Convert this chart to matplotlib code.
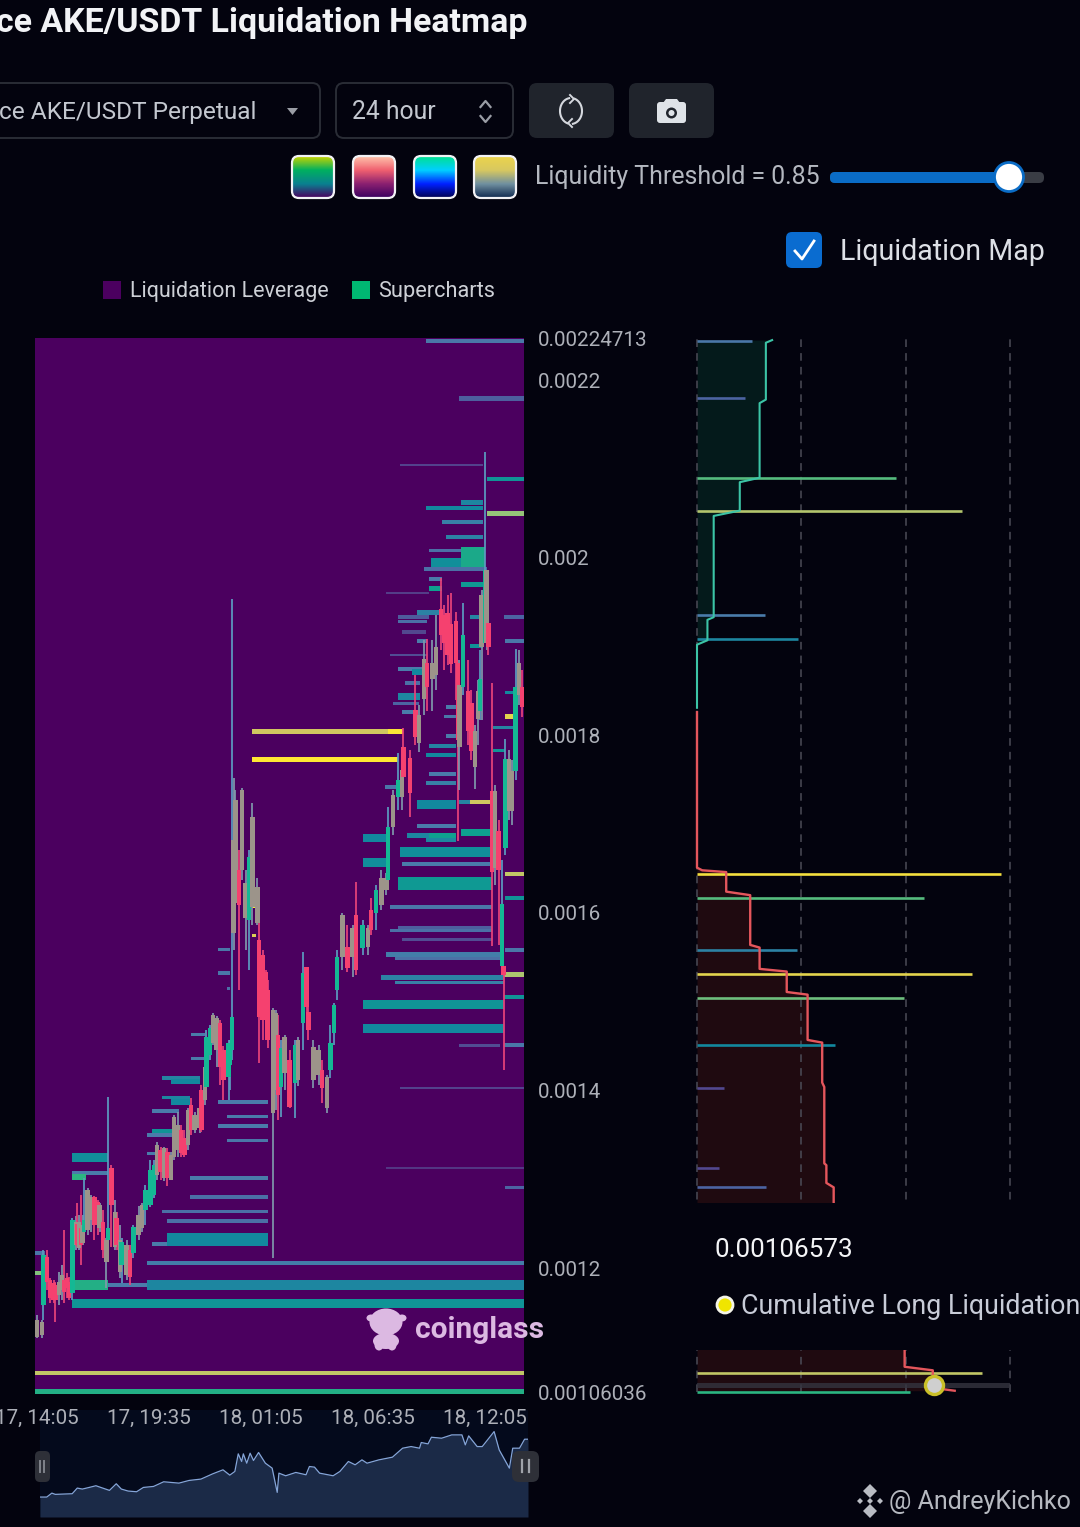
"""AKE/USDT liquidation heatmap screen, rebuilt with matplotlib"""

import numpy as np
import matplotlib
matplotlib.use("Agg")
import matplotlib.pyplot as plt
from matplotlib.colors import LinearSegmentedColormap
from matplotlib.patches import Circle, FancyBboxPatch, Polygon, Ellipse, Rectangle

plt.rcParams['font.family'] = ['Roboto', 'DejaVu Sans']

# prices below are in millionths (1234 = 0.001234), time is in 5 minute bars
price_ticks = [2247.13, 2200, 2000, 1800, 1600, 1400, 1200, 1060.36]
price_labels = ['0.00224713', '0.0022', '0.002', '0.0018', '0.0016', '0.0014', '0.0012', '0.00106036']
time_ticks = [1, 67, 133, 199, 265]
time_labels = ['17, 14:05', '17, 19:35', '18, 01:05', '18, 06:35', '18, 12:05']

# candles
candle_bar = [1, 4, 5, 7, 9, 11, 12, 14, 16, 17, 19, 20, 22, 24, 25, 26, 27, 28, 29, 31, 33, 35, 37, 38, 40, 42, 43, 45,
              47, 48, 50, 51, 54, 56, 58, 61, 63, 65, 68, 70, 72, 74, 76, 78, 80, 82, 84, 86, 88, 90, 92, 94, 97, 98,
              100, 101, 103, 105, 107, 109, 111, 114, 115, 116, 117, 118, 120, 122, 124, 126, 128, 131, 132, 134, 136,
              137, 140, 142, 143, 145, 147, 150, 153, 155, 158, 160, 161, 164, 167, 169, 172, 174, 176, 178, 181, 184,
              187, 189, 193, 196, 198, 201, 204, 207, 208, 211, 214, 216, 217, 221, 224, 226, 229, 231, 234, 236, 239,
              241, 243, 245, 248, 249, 250, 252, 255, 257, 259, 261, 262, 263, 265, 266, 267, 269, 271, 273, 275, 276,
              277, 279, 281, 283, 285, 287]
candle_high = [1147, 1142, 1220, 1220, 1189, 1187, 1184, 1196, 1204, 1243, 1195, 1190, 1257, 1259, 1273, 1260, 1282, 1260,
               1302, 1290, 1282, 1281, 1277, 1273, 1266, 1234, 1393, 1316, 1277, 1263, 1249, 1234, 1232, 1226, 1249, 1270,
               1273, 1294, 1322, 1322, 1342, 1336, 1336, 1335, 1331, 1372, 1376, 1361, 1356, 1380, 1392, 1376, 1380, 1406,
               1429, 1468, 1474, 1487, 1484, 1479, 1450, 1457, 1457, 1953, 1752, 1738, 1671, 1741, 1648, 1671, 1724, 1639,
               1598, 1558, 1536, 1524, 1493, 1491, 1485, 1457, 1463, 1446, 1457, 1460, 1556, 1539, 1495, 1457, 1451, 1434,
               1418, 1474, 1499, 1558, 1600, 1586, 1586, 1635, 1592, 1586, 1617, 1631, 1648, 1645, 1719, 1738, 1780, 1767,
               1808, 1783, 1868, 1834, 1907, 1908, 1907, 1935, 1977, 1947, 1958, 1960, 1939, 1881, 1885, 1949, 1885, 1851,
               1812, 1862, 1896, 1964, 2119, 1986, 1952, 1859, 1744, 1705, 1660, 1540, 1796, 1783, 1772, 1897, 1896, 1874]
candle_low = [1121, 1121, 1142, 1175, 1161, 1161, 1139, 1159, 1164, 1161, 1166, 1164, 1164, 1220, 1224, 1220, 1204, 1226,
              1237, 1237, 1241, 1232, 1237, 1241, 1212, 1178, 1232, 1224, 1220, 1220, 1189, 1183, 1187, 1181, 1212, 1232,
              1241, 1249, 1269, 1279, 1299, 1299, 1298, 1293, 1299, 1322, 1325, 1325, 1325, 1333, 1350, 1352, 1352, 1353,
              1384, 1403, 1434, 1451, 1427, 1406, 1389, 1389, 1401, 1434, 1558, 1584, 1513, 1637, 1558, 1536, 1586, 1586,
              1431, 1457, 1463, 1448, 1212, 1378, 1367, 1370, 1401, 1380, 1369, 1405, 1446, 1485, 1457, 1403, 1406, 1386,
              1375, 1414, 1451, 1502, 1536, 1534, 1528, 1530, 1553, 1553, 1575, 1581, 1603, 1620, 1635, 1688, 1716, 1716,
              1744, 1708, 1789, 1781, 1823, 1827, 1827, 1851, 1896, 1874, 1879, 1870, 1840, 1681, 1738, 1845, 1789, 1772,
              1740, 1789, 1817, 1817, 1907, 1896, 1890, 1563, 1631, 1564, 1530, 1423, 1665, 1705, 1699, 1750, 1834, 1821]
candle_top = [1142, 1139, 1215, 1213, 1187, 1183, 1181, 1184, 1192, 1187, 1189, 1184, 1254, 1252, 1250, 1252, 1245, 1249,
              1254, 1288, 1280, 1280, 1275, 1271, 1252, 1232, 1245, 1313, 1263, 1256, 1232, 1230, 1226, 1220, 1246, 1260,
              1271, 1288, 1311, 1316, 1339, 1333, 1335, 1331, 1328, 1370, 1361, 1356, 1347, 1378, 1384, 1372, 1380, 1401,
              1427, 1460, 1470, 1485, 1482, 1476, 1446, 1454, 1454, 1483, 1682, 1727, 1648, 1738, 1634, 1663, 1708, 1629,
              1570, 1553, 1534, 1513, 1491, 1487, 1463, 1448, 1460, 1434, 1451, 1457, 1532, 1539, 1488, 1449, 1446, 1423,
              1415, 1454, 1496, 1550, 1598, 1562, 1583, 1598, 1586, 1583, 1603, 1626, 1639, 1639, 1697, 1733, 1750, 1761,
              1787, 1774, 1829, 1823, 1886, 1881, 1881, 1899, 1942, 1935, 1938, 1925, 1929, 1881, 1857, 1913, 1850, 1836,
              1805, 1850, 1863, 1958, 1986, 1986, 1926, 1737, 1737, 1692, 1610, 1540, 1773, 1773, 1760, 1854, 1881, 1854]
candle_bottom = [1123, 1125, 1159, 1184, 1166, 1164, 1164, 1170, 1175, 1173, 1178, 1166, 1172, 1226, 1226, 1223, 1226, 1228,
                 1241, 1243, 1254, 1249, 1249, 1245, 1220, 1207, 1232, 1271, 1224, 1226, 1196, 1204, 1192, 1190, 1217, 1237,
                 1245, 1266, 1271, 1282, 1305, 1308, 1302, 1302, 1299, 1325, 1333, 1330, 1327, 1339, 1356, 1356, 1358, 1356,
                 1389, 1404, 1440, 1454, 1446, 1427, 1412, 1415, 1429, 1446, 1577, 1611, 1609, 1648, 1594, 1592, 1607, 1589,
                 1483, 1479, 1482, 1457, 1375, 1401, 1395, 1404, 1420, 1381, 1409, 1412, 1476, 1494, 1468, 1412, 1418, 1403,
                 1380, 1423, 1465, 1513, 1550, 1538, 1550, 1536, 1561, 1562, 1581, 1600, 1609, 1626, 1637, 1697, 1731, 1731,
                 1753, 1735, 1798, 1791, 1841, 1854, 1863, 1868, 1913, 1904, 1890, 1880, 1881, 1795, 1787, 1854, 1805, 1782,
                 1764, 1818, 1827, 1899, 1904, 1904, 1899, 1646, 1651, 1648, 1540, 1530, 1673, 1715, 1715, 1760, 1845, 1832]
# g = rising, r = falling, m = tight up and down bars that blur together in the picture
candle_kind = list("mmgrrrrmmrrrgmrmrmgmmrrmrmgr"
                   "mrmgmrgmmgggmrmrmmmrrmrmmr"
                   "mggmmrrgggmmrmmgmmrrrrmmrgmrgmgrrmmrmgggmrmrgmrgmmgmgmrrrmmrmmrrrrrrmgrrmmgmgmrrmrgrgmmgmr")

# heatmap levels
level_price = [2244, 2179, 2104, 2089, 2050, 2062, 2056, 2040, 2023, 2008, 2000, 1994, 1987, 1976, 1970, 1965, 1960, 1938,
               1933, 1933, 1933, 1928, 1916, 1906, 1906, 1901, 1890, 1875, 1871, 1859, 1848, 1844, 1836, 1832, 1826, 1821,
               1821, 1809, 1804, 1804, 1799, 1788, 1783, 1778, 1773, 1756, 1746, 1742, 1725, 1725, 1722, 1698, 1691, 1687,
               1687, 1682, 1684, 1669, 1657, 1655, 1644, 1633, 1617, 1607, 1583, 1580, 1570, 1559, 1558, 1553, 1549, 1532,
               1531, 1527, 1522, 1515, 1505, 1497, 1470, 1463, 1451, 1451, 1436, 1414, 1410, 1392, 1387, 1387, 1377, 1371,
               1360, 1353, 1350, 1344, 1329, 1403, 1313, 1291, 1302, 1280, 1264, 1253, 1232, 1227, 1325, 1307, 1303, 1217,
               1206, 1195, 1181, 1181, 1181, 1160, 1082, 1061, 1607, 1575]
level_band = [4.5, 4.5, 2.2, 4, 4.5, 4.5, 4.5, 4, 4, 3.5, 20, 9, 3.5, 4, 4.5, 5, 2.2, 4.5, 4.5, 4.5, 4, 3.5, 3.5, 3.5, 3.5,
              4, 2.2, 4, 5.5, 4, 3.5, 7, 3, 3.5, 3.5, 4.5, 3.5, 3.5, 4.5, 4.5, 3.5, 3.5, 3.5, 4, 4.5, 4, 4, 3.5, 4, 4, 9,
              4, 7, 4.5, 4.5, 3.5, 7.5, 10, 9, 4.5, 4.5, 12.5, 3.5, 4, 3.5, 3.5, 2.5, 3.5, 3.5, 4.5, 2.5, 4, 4.5, 4.5, 3,
              2.5, 4, 9, 9, 3.5, 2.5, 3.5, 3.5, 3.5, 5.5, 3.5, 5.5, 3.5, 3.5, 3.5, 3.5, 5.5, 3.5, 3.5, 3.5, 2.2, 1.7, 3.5,
              4, 3.5, 3.5, 3.5, 12.5, 3.5, 9, 3.5, 6, 3.5, 4, 4, 10, 3.5, 9, 9, 4.5, 5.5, 3, 3]
level_start = [230, 250, 215, 266, 266, 251, 230, 240, 242, 232, 251, 233, 229, 232, 251, 232, 207, 225, 214, 256, 276, 214,
               216, 225, 277, 256, 209, 214, 222, 218, 277, 214, 211, 242, 216, 277, 241, 270, 128, 208, 242, 232, 270,
               230, 128, 232, 230, 206, 256, 250, 225, 225, 251, 219, 232, 230, 193, 215, 193, 216, 277, 214, 277, 209,
               214, 209, 216, 108, 277, 207, 212, 108, 276, 204, 212, 113, 276, 193, 193, 92, 250, 276, 92, 75, 80, 75, 80,
               108, 69, 113, 108, 69, 66, 113, 66, 215, 207, 277, 91, 91, 75, 78, 78, 69, 22, 22, 22, 0, 66, 0, 22, 43, 66,
               22, 0, 0, 128, 128]
level_end = [288, 288, 264, 288, 288, 264, 264, 264, 264, 251, 265, 251, 266, 240, 265, 240, 232, 239, 232, 264, 288, 231,
             230, 231, 288, 264, 231, 230, 229, 227, 283, 227, 226, 248, 223, 283, 248, 283, 217, 217, 248, 248, 277, 248,
             214, 248, 248, 213, 269, 256, 248, 248, 269, 248, 248, 248, 207, 269, 207, 269, 288, 269, 288, 269, 269, 269,
             269, 115, 288, 274, 274, 115, 288, 276, 276, 115, 288, 276, 276, 100, 274, 288, 100, 97, 97, 91, 91, 137, 85,
             137, 137, 81, 82, 137, 74, 288, 288, 288, 137, 137, 137, 137, 137, 78, 43, 43, 30, 6, 288, 5, 43, 66, 288, 288,
             288, 288, 130, 130]
level_value = [.28, .18, .08, .5, .72, .42, .45, .35, .38, .25, .58, .48, .25, .3, .52, .55, .07, .38, .17, .4, .2, .25, .1,
               .3, .28, .5, .12, .3, .45, .25, .45, .42, .2, .3, .3, .88, .28, .4, .8, .98, .3, .4, .5, .45, 1.0, .3, .35,
               .28, .8, .4, .45, .3, .55, .42, .55, .42, .45, .48, .47, .3, .78, .52, .5, .28, .18, .25, .12, .28, .28, .32,
               .25, .28, .75, .38, .35, .25, .5, .5, .45, .3, .12, .28, .3, .4, .45, .42, .45, .3, .3, .3, .3, .5, .3, .28,
               .3, .08, .06, .2, .3, .25, .25, .25, .45, .3, .48, .3, .62, .28, .32, .7, .6, .3, .42, .5, .78, .6, 1.0, .85]

# liquidation map bars, long and short cumulative curves
map_price = [2244, 2180, 2090, 2053, 1935, 1908, 1644, 1617, 1558, 1531, 1504, 1451, 1403, 1313, 1291, 1082, 1061]
map_length = [.53, .46, 1.905, 2.54, .65, .97, 2.91, 2.18, .96, 2.64, 1.98, 1.32, .26, .21, .66, 2.73, 2.04]
map_value = [.28, .2, .66, .76, .3, .42, .95, .66, .38, .88, .68, .45, .1, .1, .2, .78, .62]

short_price = [2245, 2244, 2242, 2178, 2174, 2090, 2085, 2053, 2047, 1933, 1930, 1907, 1902, 1831]
short_cum = [.72, .70, .66, .66, .60, .60, .41, .41, .16, .16, .10, .10, 0, 0]
long_price = [1826, 1651, 1648, 1646, 1624, 1620, 1564, 1561, 1537, 1534, 1511, 1508, 1457, 1454, 1409, 1404, 1318, 1316,
              1296, 1291, 1270, 1120, 1108, 1089, 1085, 1068, 1065, 1062]
long_cum = [0, 0, .05, .28, .28, .51, .51, .60, .60, .86, .86, 1.06, 1.06, 1.20, 1.20, 1.22, 1.22, 1.24, 1.24, 1.31, 1.31,
            1.99, 1.99, 1.99, 2.26, 2.26, 2.28, 2.47]
hover_price = 1068
hover_cum = 2.27

# range slider line
slider_bar = [0, 4, 7, 9, 19, 22, 25, 29, 33, 37, 41, 45, 48, 52, 57, 61, 67, 73, 82, 88, 95, 102, 108, 112, 115, 117, 119,
              120, 122, 124, 126, 129, 133, 137, 140, 141, 145, 151, 157, 159, 162, 165, 173, 177, 182, 186, 190, 193, 200,
              208, 214, 219, 224, 225, 229, 231, 237, 243, 249, 251, 253, 258, 261, 268, 271, 277, 279, 283, 286, 288]
slider_price = [1100, 1100, 1156, 1138, 1147, 1227, 1213, 1236, 1260, 1227, 1194, 1288, 1213, 1185, 1175, 1236, 1250, 1316,
                1297, 1335, 1354, 1429, 1485, 1410, 1462, 1711, 1603, 1711, 1579, 1720, 1617, 1730, 1579, 1509, 1166, 1438,
                1401, 1448, 1415, 1532, 1523, 1438, 1401, 1462, 1603, 1556, 1626, 1579, 1626, 1664, 1791, 1814, 1791, 1871,
                1852, 1946, 1932, 1979, 1979, 1838, 1965, 1814, 1814, 2026, 1767, 1509, 1791, 1791, 1918, 1918]

PAGE = '#03030e'
PURPLE = '#4b005f'
GRAY_TEXT = '#adb0b8'
LEVELS = LinearSegmentedColormap.from_list('levels', [
    (0, PURPLE), (.07, '#54408a'), (.2, '#4c64a2'), (.3, '#4a7caa'), (.45, '#12889e'), (.55, '#0ea08f'),
    (.62, '#2cb581'), (.72, '#95c47a'), (.8, '#d0c660'), (1, '#ffe733')])
BODY = {'g': '#14b894', 'r': '#f5416f', 'm': '#9c948a'}
WICK = {'g': '#5c9cc0', 'r': '#e8437a', 'm': '#7f98ac'}


def px_axes(x0, y0, x1, y1):
    return fig.add_axes([x0 / 1080, 1 - y1 / 1527, (x1 - x0) / 1080, (y1 - y0) / 1527])


fig = plt.figure(figsize=(10.8, 15.27), dpi=100, facecolor=PAGE)

# range slider, under the time labels
sl = px_axes(40, 1410, 528, 1517)
sl.set_zorder(1)
sl.set_facecolor('#040a1c')
sl.set_xlim(0, 288)
sl.set_ylim(818, 2331)
sl.set_xticks([])
sl.set_yticks([])
for s in sl.spines.values():
    s.set_visible(False)
sl.fill_between(slider_bar, 818, slider_price, color='#1b2a47', linewidth=0)
sl.plot(slider_bar, slider_price, color='#85a5d8', lw=.9)

# heatmap
ax = px_axes(35, 338.2, 524, 1392.2)
ax.set_zorder(3)
ax.set_facecolor(PURPLE)
ax.set_xlim(0, 288)
ax.set_ylim(price_ticks[-1] / 1e6, price_ticks[0] / 1e6)
for s in ax.spines.values():
    s.set_visible(False)
ax.barh(np.array(level_price) / 1e6, np.array(level_end) - np.array(level_start), left=level_start,
        height=np.array(level_band) * 1.15 / 1e6, color=LEVELS(np.array(level_value)), linewidth=0, zorder=2,
        clip_on=False)
ax.vlines(candle_bar, np.array(candle_low) / 1e6, np.array(candle_high) / 1e6,
          colors=[WICK[k] for k in candle_kind], linewidth=1.25, zorder=3)
ax.bar(candle_bar, (np.array(candle_top) - np.array(candle_bottom)) / 1e6, bottom=np.array(candle_bottom) / 1e6,
       width=2.6, color=[BODY[k] for k in candle_kind], linewidth=0, zorder=4)
ax.set_xticks(time_ticks, time_labels)
ax.set_yticks(np.array(price_ticks) / 1e6, price_labels)
ax.yaxis.tick_right()
ax.tick_params(axis='both', length=0, labelcolor=GRAY_TEXT, labelsize=14.9)
ax.tick_params(axis='x', pad=12.2)
ax.tick_params(axis='y', pad=10)

# liquidation map
mp = px_axes(697, 338.2, 1010, 1392.2)
mp.set_zorder(3)
mp.set_facecolor('none')
mp.set_xlim(0, 3)
mp.set_ylim(price_ticks[-1] / 1e6, price_ticks[0] / 1e6)
mp.axis('off')
short_y = np.array(short_price) / 1e6
long_y = np.array(long_price) / 1e6
mp.fill_betweenx(short_y, 0, short_cum, color='#041a1b', linewidth=0, zorder=1)
mp.fill_betweenx(long_y, 0, long_cum, color='#1f0a10', linewidth=0, zorder=1)
for v in range(4):
    mp.axvline(v, color='#4c4c57', lw=1.1, dashes=(5, 4), zorder=2, clip_on=False)
mp.axhspan((hover_price - 2.8) / 1e6, (hover_price + 2.8) / 1e6, color='#34343f', alpha=.8, linewidth=0, zorder=2)
mp.hlines(np.array(map_price) / 1e6, 0, map_length, colors=LEVELS(np.array(map_value)), linewidth=1.9, zorder=3,
          clip_on=False)
mp.plot(short_cum, short_y, color='#3cc4a6', lw=1.5, zorder=4, solid_joinstyle='round', clip_on=False)
mp.plot(long_cum, long_y, color='#e4565c', lw=1.7, zorder=4, solid_joinstyle='round', clip_on=False)
mp.plot([hover_cum], [hover_price / 1e6], 'o', ms=13, mfc='#cfcfcf', mec='#cabf28', mew=2.4, zorder=5, clip_on=False)

# page furniture drawn in pixel coordinates
ui = fig.add_axes([0, 0, 1, 1], facecolor='none')
ui.set_zorder(5)
ui.set_xlim(0, 1080)
ui.set_ylim(1527, 0)
ui.axis('off')


def box(x0, y0, x1, y1, r=8, fc='none', ec='none', lw=1.4, z=2):
    ui.add_patch(FancyBboxPatch((x0 + r, y0 + r), x1 - x0 - 2 * r, y1 - y0 - 2 * r, boxstyle=f'round,pad={r}',
                                fc=fc, ec=ec, lw=lw, zorder=z))


ui.text(-4, 23, 'ce AKE/USDT Liquidation Heatmap', color='#f2f3f6', fontsize=24.4, fontweight='bold', va='center',
        clip_on=True)
box(-20, 83, 320, 138, ec='#2a2d36')
ui.text(-1, 112, 'ce AKE/USDT Perpetual', color='#c4c8d0', fontsize=17.6, va='center', clip_on=True)
ui.add_patch(Polygon([(287, 108), (298, 108), (292.5, 115)], fc='#9a9da5'))
box(336, 83, 513, 138, ec='#2a2d36')
ui.text(352, 112, '24 hour', color='#c4c8d0', fontsize=17.8, va='center')
ui.plot([480.5, 485.5, 490.5], [107, 101, 107], color='#9a9da5', lw=1.6)
ui.plot([480.5, 485.5, 490.5], [116, 122, 116], color='#9a9da5', lw=1.6)
box(529, 83, 614, 138, fc='#20242c')
box(629, 83, 714, 138, fc='#20242c')
# refresh icon
for t0, t1 in [(100, 250), (280, 430)]:
    t = np.radians(np.linspace(t0, t1, 30))
    ui.plot(571 + 11 * np.cos(t), 111 - 13 * np.sin(t), color='#d5d8de', lw=1.5)
ui.plot([570, 574, 570], [95, 99, 103], color='#d5d8de', lw=1.4)
ui.plot([572, 568, 572], [119, 123, 127], color='#d5d8de', lw=1.4)
# camera icon
box(657, 102, 686, 123, r=3, fc='#dfe3e8', z=3)
ui.add_patch(Polygon([(663, 103), (666, 99), (677, 99), (680, 103)], fc='#dfe3e8', zorder=3))
ui.add_patch(Circle((671.5, 113), 5.5, fc='#20242c', ec='none', zorder=4))
ui.add_patch(Circle((671.5, 113), 3, fc='#dfe3e8', ec='none', zorder=5))

# colour scheme swatches
swatch_colors = [['#c8d400', '#00b060', '#0a8090', '#4b005f'], ['#ffc4ac', '#f06070', '#8a2070', '#3a0060'],
                 ['#00e090', '#00d0ff', '#0020ff', '#000050'], ['#ecd44c', '#d8c860', '#7090a0', '#102a50']]
for x0, cols in zip([292, 353, 414, 474], swatch_colors):
    cm = LinearSegmentedColormap.from_list('sw', cols)
    im = ui.imshow(np.linspace(0, 1, 64)[:, None], cmap=cm, extent=(x0, x0 + 42, 198, 156), aspect='auto', zorder=2)
    clip = FancyBboxPatch((x0 + 7, 163), 28, 28, boxstyle='round,pad=7', fc='none', ec='#f2f2f5', lw=1.6, zorder=3)
    ui.add_patch(clip)
    im.set_clip_path(clip)
ui.set_xlim(0, 1080)
ui.set_ylim(1527, 0)

ui.text(535, 177, 'Liquidity Threshold = 0.85', color='#b4b8c0', fontsize=17.95, va='center')
box(830, 172, 1044, 183, r=5, fc='#3a3d45')
box(830, 172, 1008, 183, r=5, fc='#0a6cc6', z=3)
ui.add_patch(Ellipse((1009, 177), 29, 29, fc='white', ec='#0a6cc6', lw=2, zorder=4))

box(786, 232, 822, 268, r=6, fc='#0a6cd0')
ui.plot([795, 802, 814], [251, 259, 241], color='white', lw=2, zorder=4)
ui.text(840, 252, 'Liquidation Map', color='#dde0e6', fontsize=20.6, va='center')

ui.add_patch(Rectangle((103, 281), 18, 18, fc=PURPLE))
ui.text(130, 291, 'Liquidation Leverage', color='#cdd0d6', fontsize=15.5, va='center')
ui.add_patch(Rectangle((352, 281), 18, 18, fc='#00b872'))
ui.text(378, 291, 'Supercharts', color='#cdd0d6', fontsize=15.7, va='center')

# coinglass watermark
for (cx, cy, w, h) in [(386, 1322, 33, 27), (386, 1341, 26, 16), (371, 1318, 9, 7), (402, 1318, 9, 7),
                       (379, 1345, 9, 11), (392, 1345, 9, 11)]:
    ui.add_patch(Ellipse((cx, cy), w, h, fc='#dcb9e2', ec='none', zorder=6))
ui.text(415, 1330, 'coinglass', color='#dcb9e2', fontsize=21.5, fontweight='bold', va='center', zorder=6)

# tooltip over the map
ui.add_patch(Rectangle((690, 1203), 390, 147, fc=PAGE, ec='none', zorder=5))
ui.text(715, 1250, '0.00106573', color='#f4f5f7', fontsize=18.7, va='center', zorder=6)
ui.add_patch(Circle((725, 1305), 8, fc='#f0e500', ec='#f4f4e8', lw=2, zorder=6))
ui.text(741, 1306, 'Cumulative Long Liquidation', color='#c8ccd8', fontsize=19.3, va='center', zorder=6, clip_on=True)

# slider handles
box(35, 1451, 50, 1482, r=5, fc='#2e3038')
box(512, 1451, 539, 1482, r=7, fc='#2e3038')
ui.plot([40, 40], [1461, 1472], color='#80838a', lw=1.4)
ui.plot([44, 44], [1461, 1472], color='#80838a', lw=1.4)
ui.plot([522, 522], [1460, 1472], color='#a0a3aa', lw=1.6)
ui.plot([529, 529], [1460, 1472], color='#a0a3aa', lw=1.6)

# binance tag
for (cx, cy, r) in [(870, 1491, 7), (860, 1501, 3), (880, 1501, 3), (870, 1511, 7), (870, 1501, 3)]:
    ui.add_patch(Polygon([(cx - r, cy), (cx, cy - r), (cx + r, cy), (cx, cy + r)], fc='#b9bcc3', ec='none'))
ui.text(889, 1502, '@ AndreyKichko', color='#b6b9c0', fontsize=18, va='center')

fig.savefig('out.png', dpi=100, facecolor=PAGE)
